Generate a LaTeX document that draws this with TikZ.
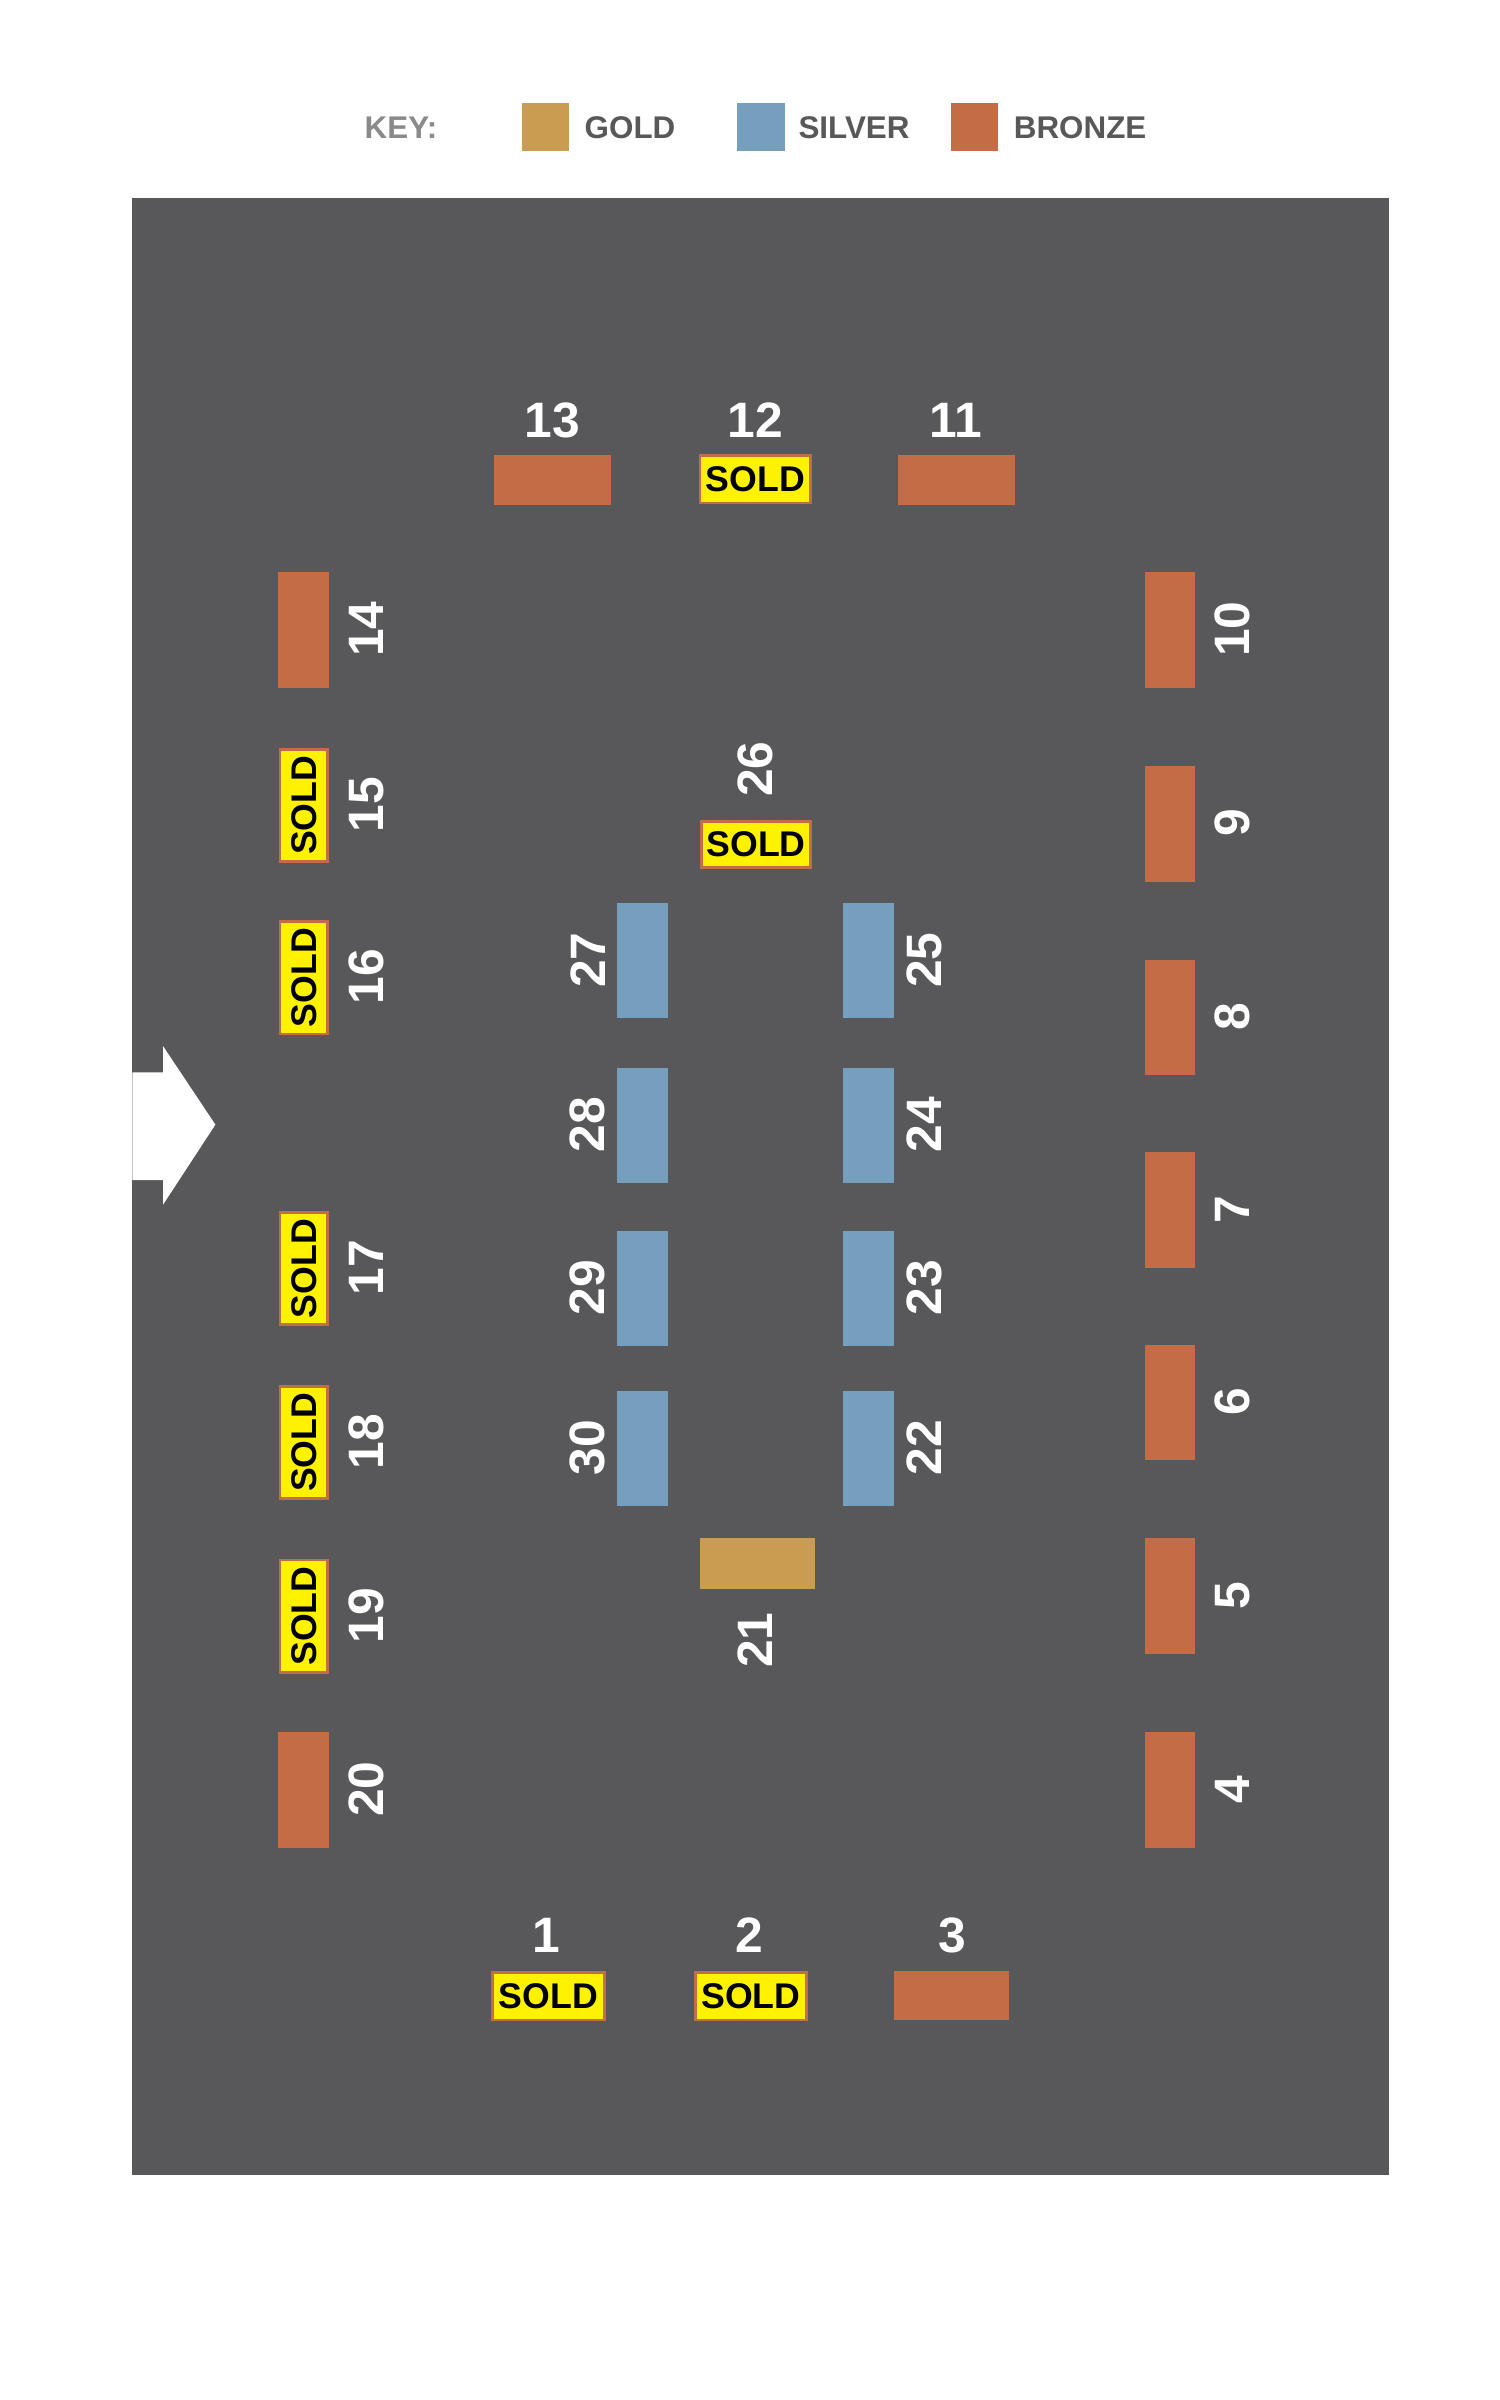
\documentclass[tikz,border=0pt]{standalone}
\usepackage{fontspec}
\setmainfont{Liberation Sans}
\definecolor{bg}{HTML}{58585A}
\definecolor{bronze}{HTML}{C46C45}
\definecolor{silver}{HTML}{769FBD}
\definecolor{gold}{HTML}{C99C52}
\definecolor{soldy}{HTML}{FFF200}
\definecolor{keyg}{HTML}{8A8A8A}
\begin{document}
\begin{tikzpicture}[x=0.1cm,y=-0.1cm,
  num/.style={text=white,font=\fontsize{92}{92}\selectfont\bfseries,inner sep=0},
  sold/.style={fill=soldy,draw=bronze,line width=5pt},
  soldt/.style={font=\fontsize{66}{66}\selectfont\bfseries,inner sep=0,text=black},
  keyt/.style={font=\fontsize{58}{58}\selectfont\bfseries,text=bg,anchor=west,inner sep=0}]
\useasboundingbox (0,0) rectangle (975,1560);
\fill[white] (0,0) rectangle (975,1560);
% key
\node[keyt,text=keyg] (key) at (237,83) {KEY:};
\fill[gold] (339,67) rectangle (370,98);
\node[keyt] (kg) at (380,83) {GOLD};
\fill[silver] (479,67) rectangle (510,98);
\node[keyt] (ks) at (519,83) {SILVER};
\fill[bronze] (618,67) rectangle (649,98);
\node[keyt] (kb) at (659,83) {BRONZE};
% floor
\fill[bg] (86,129) rectangle (903,1414);
\fill[white] (86,697) -- (106,697) -- (106,680) -- (140,731) -- (106,783) -- (106,767) -- (86,767) -- cycle;
% horizontal booths
\newcommand{\hb}[5]{% x1,y1,x2,y2,color
  \fill[#5] (#1,#2) rectangle (#3,#4);}
\newcommand{\hsold}[4]{\draw[sold] (#1,#2) rectangle (#3,#4);
  \node[soldt] at ({(#1+#3)/2},{(#2+#4)/2}) {SOLD};}
\newcommand{\vsold}[4]{\draw[sold] (#1,#2) rectangle (#3,#4);
  \node[soldt,rotate=90] at ({(#1+#3)/2},{(#2+#4)/2}) {SOLD};}
% top
\hb{321}{296}{397}{328}{bronze}\node[num] (n13) at (359,273) {13};
\hsold{455}{296}{527}{327}\node[num] (n12) at (491,273) {12};
\hb{584}{296}{660}{328}{bronze}\node[num] (n11) at (621,273) {11};
% bottom
\hsold{320}{1282}{393}{1313}\node[num] (n1) at (355,1258) {1};
\hsold{452}{1282}{524}{1313}\node[num] (n2) at (487,1258) {2};
\hb{581}{1281}{656}{1313}{bronze}\node[num] (n3) at (619,1258) {3};
% left column
\hb{181}{372}{214}{447}{bronze}\node[num,rotate=90] (n14) at (238,409) {14};
\vsold{182}{487}{213}{560}\node[num,rotate=90] (n15) at (238,523) {15};
\vsold{182}{599}{213}{672}\node[num,rotate=90] (n16) at (238,635) {16};
\vsold{182}{788}{213}{861}\node[num,rotate=90] (n17) at (238,824) {17};
\vsold{182}{901}{213}{974}\node[num,rotate=90] (n18) at (238,937) {18};
\vsold{182}{1014}{213}{1087}\node[num,rotate=90] (n19) at (238,1050) {19};
\hb{181}{1126}{214}{1201}{bronze}\node[num,rotate=90] (n20) at (238,1163) {20};
% right column
\hb{744}{372}{777}{447}{bronze}\node[num,rotate=90] (n10) at (801,409) {10};
\hb{744}{498}{777}{573}{bronze}\node[num,rotate=90] (n9) at (801,535) {9};
\hb{744}{624}{777}{699}{bronze}\node[num,rotate=90] (n8) at (801,661) {8};
\hb{744}{749}{777}{824}{bronze}\node[num,rotate=90] (n7) at (801,786) {7};
\hb{744}{874}{777}{949}{bronze}\node[num,rotate=90] (n6) at (801,911) {6};
\hb{744}{1000}{777}{1075}{bronze}\node[num,rotate=90] (n5) at (801,1037) {5};
\hb{744}{1126}{777}{1201}{bronze}\node[num,rotate=90] (n4) at (801,1163) {4};
% center
\node[num,rotate=90] (n26) at (491,500) {26};
\hsold{456}{534}{527}{564}
\hb{401}{587}{434}{662}{silver}\node[num,rotate=90] (n27) at (382,624) {27};
\hb{401}{694}{434}{769}{silver}\node[num,rotate=90] (n28) at (382,731) {28};
\hb{401}{800}{434}{875}{silver}\node[num,rotate=90] (n29) at (382,837) {29};
\hb{401}{904}{434}{979}{silver}\node[num,rotate=90] (n30) at (382,941) {30};
\hb{548}{587}{581}{662}{silver}\node[num,rotate=90] (n25) at (601,624) {25};
\hb{548}{694}{581}{769}{silver}\node[num,rotate=90] (n24) at (601,731) {24};
\hb{548}{800}{581}{875}{silver}\node[num,rotate=90] (n23) at (601,837) {23};
\hb{548}{904}{581}{979}{silver}\node[num,rotate=90] (n22) at (601,941) {22};
\hb{455}{1000}{530}{1033}{gold}\node[num,rotate=90] (n21) at (491,1066) {21};
\end{tikzpicture}
\end{document}
